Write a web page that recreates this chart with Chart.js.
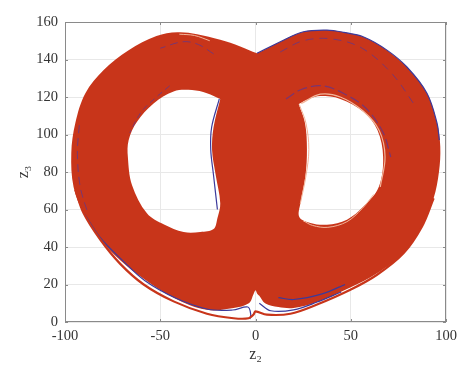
<!DOCTYPE html>
<html lang="en">

<head>
    <meta charset="UTF-8" />
    <title>z2 - z3 phase portrait</title>
    <script src="https://cdn.jsdelivr.net/npm/chart.js"></script>
    <style>
        html, body { margin: 0; background: #fff; }
        #wrap { width: 474px; height: 377px; }
    </style>
</head>

<body>
    <div id="wrap"><canvas id="grafica" width="474" height="377"></canvas></div>

    <script>
        const xTicks = [-100, -50, 0, 50, 100];
        const yTicks = [0, 20, 40, 60, 80, 100, 120, 140, 160];

        // outline of the dense region
        const outerX = [0.8, -8, -18.5, -30.7, -41, -52, -66.6, -79.7, -89.3, -94.6, -96.7, -95.5, -90.2, -81.5, -71, -60, -43, -25.5, -11.5, -3.5, -1, 0, 1, 2, 5, 12, 20, 32, 50, 63.8, 77.8, 87.4, 93.5, 96.3, 97, 95.3, 90, 79.5, 69, 56.8, 46.3, 37.5, 25.2, 13, 0.8];
        const outerY = [143.3, 147, 150.5, 153.5, 154.5, 152.5, 145, 134.4, 122, 106, 90, 72, 58, 44, 33, 24, 13, 6.5, 7.5, 10, 15, 17, 15, 14, 10, 8, 7.5, 10.5, 18.5, 26, 36.8, 51, 66, 80, 93.5, 106, 122, 136, 145, 152, 154.5, 155.7, 154.8, 149.5, 143.3];
        const leftHoleX = [-18.5, -25.5, -33.3, -43, -53.5, -62.2, -66.6, -67, -64.8, -57, -48, -37.7, -29, -22, -20, -18.5, -21, -22.8, -22, -18.5];
        const leftHoleY = [119, 122, 123.7, 123, 116.6, 106.8, 97, 88, 73, 58, 52, 48, 48, 49.6, 55.4, 63.4, 79, 91.7, 104, 119];
        const rightHoleX = [22.7, 28, 34, 44.5, 56.8, 64, 67, 64.7, 56.8, 48, 37.5, 28.8, 23, 23.6, 26.2, 27, 26, 22.7];
        const rightHoleY = [116.3, 119, 120.5, 119, 112, 102.4, 88, 72, 61.7, 54.6, 51.9, 52.8, 56, 63.5, 77.8, 92, 106, 116.3];

        // single orbits that stand out from the dense region
        const redLowX = [-94.6, -90.2, -81.5, -71, -58.7, -43, -25.5, -11.5, -3.6, -1, 0, 6, 18.3, 32, 49.8, 63.8, 77.8, 87.4, 93.5];
        const redLowY = [70.6, 58, 44, 31, 20, 11, 4.4, 2, 2, 4, 5.7, 3.9, 4.4, 9.2, 17.2, 25.2, 36.8, 51, 66];
        const blueLeftX = [-90, -81.5, -70, -58, -42, -25, -12, -4, -2.5, -3];
        const blueLeftY = [58, 45, 33, 22, 12.8, 6.8, 6.4, 8, 4, 1.5];
        const blueRightX = [2, 8, 20, 32, 45];
        const blueRightY = [10, 6, 6.5, 10.5, 16];
        const blueRight2X = [12, 20, 35, 47];
        const blueRight2Y = [13, 12, 15, 20];
        const blueTopX = [96.5, 95.3, 90, 79.5, 69, 56.8, 46.3, 37.5, 25.2, 13, 0.8];
        const blueTopY = [97, 106, 122, 136, 145, 152, 154.5, 155.7, 154.8, 149.5, 143.3];
        const blueSideX = [-92.5, -93.5, -92, -88];
        const blueSideY = [105, 90, 72, 58];
        const blueHoleX = [-20, -22, -23.5, -23, -19];
        const blueHoleY = [60, 78, 92, 104, 119];
        const blueArcX = [-45, -52, -60, -66];
        const blueArcY = [126, 120, 112, 101];
        const blueRingX = [16, 24, 35, 46, 58, 67, 71];
        const blueRingY = [119, 124, 126, 122, 114, 101, 88];
        const lightRingX = [24, 34, 44.5, 56.5, 65, 68, 65.5];
        const lightRingY = [116.5, 121.5, 120, 112.5, 102, 88, 72];
        const lightEdgeX = [23, 26.5, 28, 26.5, 23.5];
        const lightEdgeY = [116, 106, 92, 78, 63];
        const lightLowX = [25, 30, 38, 48, 56, 62];
        const lightLowY = [54, 51.5, 50.5, 53.5, 60.5, 68];
        const lightLeftX = [-40, -32, -24];
        const lightLeftY = [153.5, 152.8, 150];
        const dashTopX = [-22, -30, -38, -50];
        const dashTopY = [143, 148, 149.5, 146];
        const dashRightX = [13, 25, 40, 56, 72, 84];
        const dashRightY = [144, 150, 151, 146, 132, 115];

        function puntos(xs, ys) {
            return xs.map((x, i) => ({ x: x, y: ys[i] }));
        }

        // outer edge, then each hole with opposite winding so it stays empty;
        // repeated points keep the bridges between them straight
        const inicio = { x: outerX[0], y: outerY[0] };
        const izq = puntos(leftHoleX, leftHoleY).reverse();
        const der = puntos(rightHoleX, rightHoleY);
        const masa = puntos(outerX, outerY)
            .concat([inicio, izq[0]], izq, [izq[izq.length - 1], inicio, inicio, der[0]], der, [der[der.length - 1], inicio]);

        const rojo = "#c8351a";
        const azul = "#3b3a9c";
        const morado = "#7a3570";
        const claro = "#f3b59a";

        function orbita(xs, ys, color, ancho, orden, guiones) {
            return {
                data: puntos(xs, ys),
                showLine: true,
                borderColor: color,
                borderWidth: ancho,
                borderDash: guiones || [],
                pointRadius: 0,
                tension: 0.35,
                fill: false,
                order: orden
            };
        }

        const marcas = {
            id: "marcas",
            afterDraw(chart) {
                const { ctx, chartArea: a, scales: { x, y } } = chart;
                ctx.save();
                ctx.strokeStyle = "#8a8a8a";
                ctx.lineWidth = 1;
                ctx.beginPath();
                xTicks.forEach(v => {
                    const p = Math.round(x.getPixelForValue(v)) + 0.5;
                    ctx.moveTo(p, a.top); ctx.lineTo(p, a.top + 3);
                    ctx.moveTo(p, a.bottom); ctx.lineTo(p, a.bottom - 3);
                });
                yTicks.forEach(v => {
                    const p = Math.round(y.getPixelForValue(v)) + 0.5;
                    ctx.moveTo(a.left, p); ctx.lineTo(a.left + 3, p);
                    ctx.moveTo(a.right, p); ctx.lineTo(a.right - 3, p);
                });
                ctx.stroke();
                ctx.strokeRect(a.left + 0.5, a.top + 0.5, a.right - a.left - 1, a.bottom - a.top - 1);
                ctx.restore();
            }
        };

        const fuente = { family: "'Liberation Serif', serif", size: 14.5 };
        const fuenteEje = { family: "'Liberation Serif', serif", size: 16 };

        new Chart(document.getElementById("grafica"), {
            type: "scatter",
            data: {
                datasets: [
                    {
                        data: masa,
                        showLine: true,
                        borderWidth: 0,
                        borderColor: rojo,
                        backgroundColor: rojo,
                        pointRadius: 0,
                        tension: 0.35,
                        fill: "shape",
                        order: 9
                    },
                    orbita(blueTopX, blueTopY, azul, 1.2, 8),
                    orbita(blueSideX, blueSideY, morado, 1, 5, [8, 5]),
                    orbita(blueLeftX, blueLeftY, azul, 1.2, 5),
                    orbita(blueRightX, blueRightY, azul, 1.2, 5),
                    orbita(blueRight2X, blueRight2Y, azul, 1.2, 5),
                    orbita(blueHoleX, blueHoleY, azul, 1.2, 5),
                    orbita(blueArcX, blueArcY, morado, 1, 5, [6, 4]),
                    orbita(blueRingX, blueRingY, morado, 1.2, 5, [10, 4]),
                    orbita(dashTopX, dashTopY, morado, 1, 5, [8, 5]),
                    orbita(dashRightX, dashRightY, morado, 1, 5, [8, 6]),
                    orbita(lightRingX, lightRingY, claro, 1.2, 4),
                    orbita(lightEdgeX, lightEdgeY, claro, 1, 4),
                    orbita(lightLowX, lightLowY, claro, 1, 4),
                    orbita(lightLeftX, lightLeftY, claro, 1, 4),
                    orbita(redLowX, redLowY, rojo, 2.2, 3)
                ]
            },
            options: {
                responsive: false,
                animation: false,
                events: [],
                layout: { padding: { top: 22, right: 28, left: 14, bottom: 13 } },
                plugins: { legend: { display: false }, tooltip: { enabled: false } },
                scales: {
                    x: {
                        type: "linear",
                        min: -100,
                        max: 100,
                        afterBuildTicks: s => { s.ticks = xTicks.map(v => ({ value: v })); },
                        afterFit: s => { s.height = 42; },
                        grid: { color: "#e8e8e8", drawTicks: false },
                        border: { display: false },
                        ticks: { color: "#333", font: fuente, padding: 5, maxRotation: 0 },
                        title: { display: true, text: "z₂", color: "#333", font: fuenteEje, padding: { top: -1, bottom: 0 } }
                    },
                    y: {
                        type: "linear",
                        min: 0,
                        max: 160,
                        afterBuildTicks: s => { s.ticks = yTicks.map(v => ({ value: v })); },
                        afterFit: s => { s.width = 51; },
                        grid: { color: "#e8e8e8", drawTicks: false },
                        border: { display: false },
                        ticks: { color: "#333", font: fuente, padding: 7 },
                        title: { display: true, text: "z₃", color: "#333", font: fuenteEje, padding: 0 }
                    }
                }
            },
            plugins: [marcas]
        });
    </script>
</body>

</html>
